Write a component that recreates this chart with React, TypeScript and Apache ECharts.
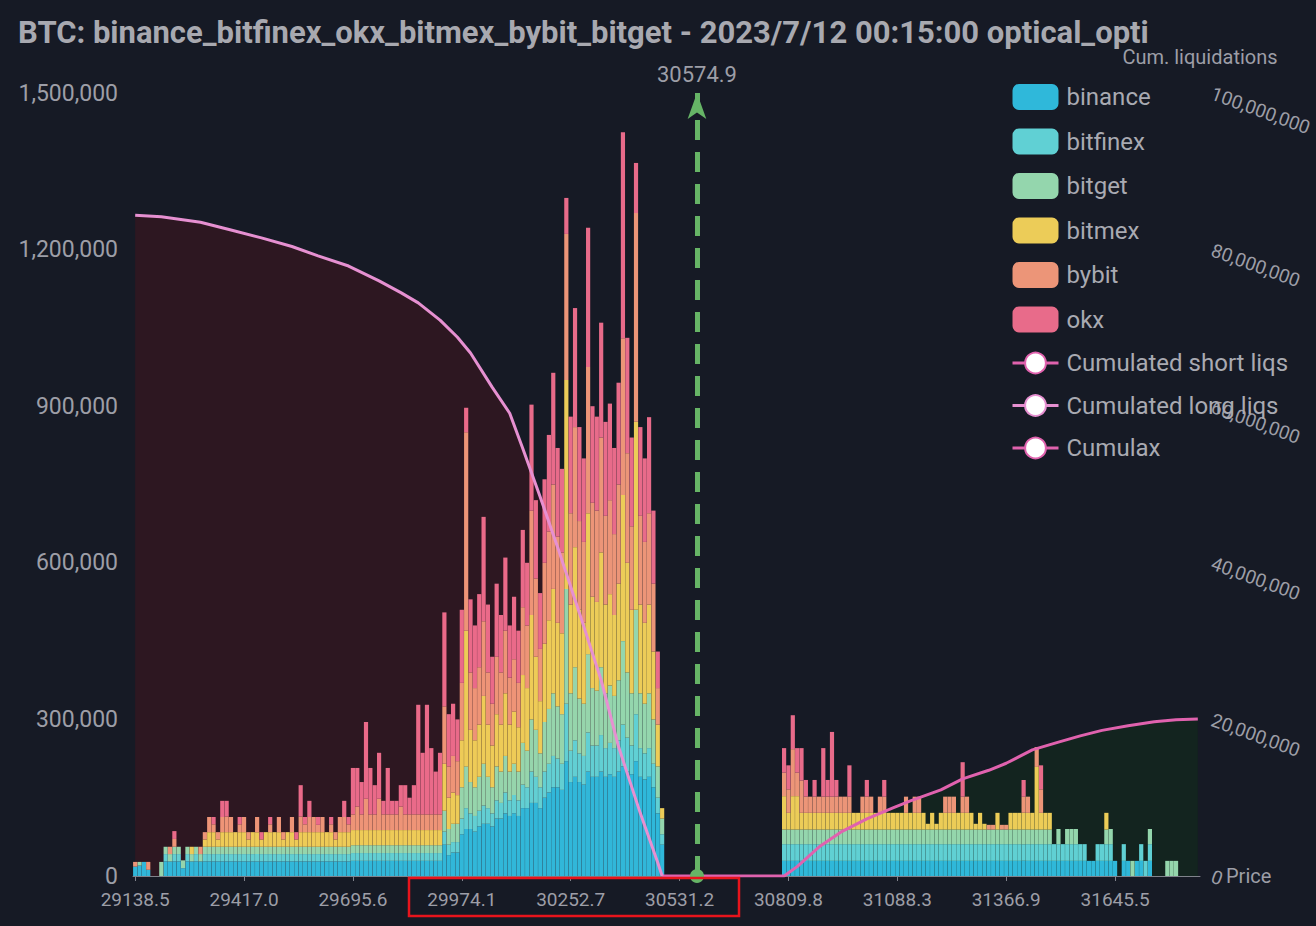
import { useEffect, useRef } from 'react';
import * as echarts from 'echarts';

const TITLE = 'BTC: binance_bitfinex_okx_bitmex_bybit_bitget - 2023/7/12 00:15:00 optical_opti';
const PRICE_START = 29138.455;
const PRICE_STEP = 11.14222;
const BIN_COUNT = 245;
const LABEL_EVERY = 25;
const TICK_LABELS = ['29138.5', '29417.0', '29695.6', '29974.1', '30252.7', '30531.2', '30809.8', '31088.3', '31366.9', '31645.5'];
const CURRENT_PRICE = '30574.9';
const CURRENT_PRICE_VALUE = 30574.9;

// liquidation values per price bin, in thousands
const BINANCE = [
  18, 20, 27, 12, 0, 0, 0, 28, 28, 28,
  28, 15, 28, 28, 28, 28, 28, 28, 28, 28,
  28, 28, 28, 28, 28, 28, 28, 28, 28, 28,
  28, 28, 28, 28, 28, 28, 28, 28, 28, 28,
  28, 28, 28, 28, 28, 28, 28, 28, 28, 28,
  29, 29, 29, 29, 29, 29, 29, 29, 29, 29,
  29, 29, 29, 29, 29, 29, 29, 29, 29, 29,
  29, 60, 40, 45, 45, 80, 90, 90, 85, 95,
  100, 100, 95, 110, 110, 120, 115, 120, 115, 130,
  130, 140, 140, 130, 150, 160, 170, 170, 165, 220,
  180, 190, 180, 175, 200, 190, 190, 200, 190, 195,
  190, 200, 210, 200, 195, 220, 190, 185, 190, 170,
  120, 60, 0, 0, 0, 0, 0, 0, 0, 0,
  0, 0, 0, 0, 0, 0, 0, 0, 0, 0,
  0, 0, 0, 0, 0, 0, 0, 0, 0, 29,
  29, 29, 29, 29, 29, 29, 29, 29, 29, 29,
  29, 29, 29, 29, 29, 29, 29, 29, 29, 29,
  29, 29, 29, 29, 29, 29, 29, 29, 29, 29,
  29, 29, 29, 29, 29, 29, 29, 29, 29, 29,
  29, 29, 29, 29, 29, 29, 29, 29, 29, 29,
  29, 29, 29, 29, 29, 29, 29, 29, 29, 29,
  29, 29, 29, 29, 29, 29, 29, 29, 29, 29,
  29, 29, 29, 29, 29, 29, 0, 29, 29, 0,
  29, 29, 0, 29, 0, 0, 0, 0, 0, 0,
  0, 0, 0, 0, 0,
];
const BITFINEX = [
  0, 0, 0, 0, 0, 0, 0, 14, 0, 14,
  14, 0, 14, 0, 14, 0, 14, 14, 14, 14,
  14, 14, 14, 14, 14, 14, 14, 14, 14, 14,
  14, 14, 14, 14, 14, 14, 14, 14, 14, 14,
  14, 14, 14, 14, 14, 14, 14, 14, 14, 14,
  15, 15, 15, 15, 15, 15, 15, 15, 15, 15,
  15, 15, 15, 15, 15, 15, 15, 15, 15, 15,
  15, 25, 20, 20, 20, 30, 40, 30, 30, 30,
  35, 30, 25, 35, 30, 40, 30, 35, 30, 45,
  40, 60, 50, 40, 50, 55, 60, 55, 50, 110,
  60, 70, 55, 55, 75, 60, 60, 70, 55, 60,
  55, 60, 80, 65, 55, 90, 55, 50, 55, 45,
  30, 20, 0, 0, 0, 0, 0, 0, 0, 0,
  0, 0, 0, 0, 0, 0, 0, 0, 0, 0,
  0, 0, 0, 0, 0, 0, 0, 0, 0, 32,
  32, 32, 32, 32, 32, 32, 32, 32, 32, 32,
  32, 32, 32, 32, 32, 32, 32, 32, 32, 32,
  32, 32, 32, 32, 32, 32, 32, 32, 32, 32,
  32, 32, 32, 32, 32, 32, 32, 32, 32, 32,
  32, 32, 32, 32, 32, 32, 32, 32, 32, 32,
  32, 32, 32, 32, 32, 32, 32, 32, 32, 32,
  32, 32, 32, 32, 32, 32, 32, 32, 32, 0,
  0, 32, 32, 32, 32, 0, 0, 32, 0, 0,
  0, 32, 29, 32, 0, 0, 0, 0, 0, 0,
  0, 0, 0, 0, 0,
];
const BITGET = [
  0, 7, 0, 0, 0, 0, 27, 14, 14, 14,
  14, 15, 14, 14, 14, 14, 14, 14, 14, 14,
  14, 14, 14, 14, 14, 14, 14, 14, 14, 14,
  14, 14, 14, 14, 14, 14, 14, 14, 14, 14,
  14, 14, 14, 14, 14, 14, 14, 14, 14, 14,
  15, 15, 15, 15, 15, 15, 15, 15, 15, 15,
  15, 15, 15, 15, 15, 15, 15, 15, 15, 15,
  15, 40, 30, 35, 35, 60, 80, 60, 55, 65,
  80, 60, 50, 65, 60, 70, 55, 60, 55, 80,
  70, 100, 90, 65, 95, 105, 120, 100, 95, 220,
  110, 140, 105, 100, 150, 110, 105, 130, 105, 110,
  100, 115, 160, 125, 100, 200, 105, 95, 105, 85,
  60, 30, 0, 0, 0, 0, 0, 0, 0, 0,
  0, 0, 0, 0, 0, 0, 0, 0, 0, 0,
  0, 0, 0, 0, 0, 0, 0, 0, 0, 28,
  28, 28, 28, 28, 28, 28, 28, 28, 28, 28,
  28, 28, 28, 28, 28, 28, 28, 28, 28, 28,
  28, 28, 28, 28, 28, 28, 28, 28, 28, 28,
  28, 28, 28, 28, 28, 28, 28, 28, 28, 28,
  28, 28, 28, 28, 28, 28, 28, 28, 28, 28,
  28, 28, 28, 28, 28, 28, 28, 28, 28, 28,
  28, 0, 29, 0, 29, 29, 29, 0, 0, 0,
  0, 0, 0, 28, 29, 0, 0, 0, 0, 29,
  0, 0, 0, 29, 0, 0, 0, 29, 29, 29,
  0, 0, 0, 0, 0,
];
const BITMEX = [
  0, 0, 0, 0, 0, 0, 0, 0, 0, 0,
  0, 0, 0, 14, 0, 0, 14, 28, 28, 14,
  28, 28, 28, 28, 28, 28, 14, 28, 28, 14,
  28, 28, 28, 28, 14, 28, 28, 14, 28, 28,
  28, 28, 28, 28, 28, 28, 14, 28, 28, 28,
  29, 29, 29, 29, 29, 29, 29, 29, 29, 29,
  29, 29, 29, 29, 29, 29, 29, 29, 29, 29,
  29, 90, 60, 60, 55, 90, 260, 100, 90, 100,
  130, 100, 80, 100, 90, 120, 90, 100, 85, 130,
  120, 200, 140, 100, 150, 170, 200, 160, 155, 400,
  170, 230, 170, 155, 270, 175, 170, 220, 170, 175,
  155, 185, 280, 210, 160, 360, 170, 155, 170, 130,
  80, 20, 0, 0, 0, 0, 0, 0, 0, 0,
  0, 0, 0, 0, 0, 0, 0, 0, 0, 0,
  0, 0, 0, 0, 0, 0, 0, 0, 0, 64,
  32, 64, 64, 32, 32, 32, 32, 32, 32, 32,
  32, 32, 32, 32, 32, 32, 32, 32, 32, 32,
  32, 32, 32, 32, 32, 32, 32, 32, 32, 32,
  32, 32, 11, 32, 11, 32, 32, 32, 32, 32,
  32, 32, 32, 11, 32, 11, 0, 0, 32, 0,
  0, 32, 32, 32, 32, 32, 32, 120, 32, 32,
  32, 0, 0, 0, 0, 0, 0, 0, 0, 0,
  0, 0, 0, 32, 0, 0, 0, 0, 0, 0,
  0, 0, 0, 0, 0, 0, 0, 0, 0, 0,
  0, 0, 0, 0, 0,
];
const BYBIT = [
  9, 0, 0, 15, 0, 0, 0, 0, 14, 15,
  0, 0, 0, 0, 0, 14, 14, 29, 15, 14,
  29, 30, 29, 0, 15, 29, 14, 0, 29, 0,
  0, 15, 0, 29, 14, 0, 29, 0, 30, 15,
  29, 29, 14, 29, 0, 15, 14, 29, 29, 15,
  30, 45, 30, 60, 30, 30, 60, 30, 30, 30,
  30, 45, 30, 30, 30, 30, 30, 30, 30, 30,
  30, 110, 60, 70, 65, 110, 380, 110, 100, 110,
  143, 100, 80, 110, 100, 120, 90, 100, 85, 130,
  120, 200, 150, 100, 155, 170, 200, 165, 155, 280,
  175, 230, 170, 155, 280, 180, 175, 220, 170, 180,
  155, 190, 300, 210, 160, 400, 170, 155, 175, 130,
  70, 0, 0, 0, 0, 0, 0, 0, 0, 0,
  0, 0, 0, 0, 0, 0, 0, 0, 0, 0,
  0, 0, 0, 0, 0, 0, 0, 0, 0, 45,
  45, 90, 45, 62, 31, 31, 31, 31, 31, 31,
  31, 31, 31, 31, 31, 0, 0, 31, 31, 31,
  0, 31, 31, 0, 0, 0, 0, 31, 0, 31,
  31, 0, 0, 0, 0, 0, 31, 31, 31, 0,
  31, 31, 0, 0, 0, 0, 9, 9, 0, 9,
  9, 0, 0, 0, 31, 31, 0, 38, 45, 0,
  0, 0, 0, 0, 0, 0, 0, 0, 0, 0,
  0, 0, 0, 0, 0, 0, 0, 0, 0, 0,
  0, 0, 0, 0, 0, 0, 0, 0, 0, 0,
  0, 0, 0, 0, 0,
];
const OKX = [
  0, 0, 0, 0, 0, 0, 0, 0, 0, 15,
  0, 0, 0, 0, 0, 0, 0, 0, 14, 0,
  31, 30, 0, 0, 14, 0, 0, 0, 0, 14,
  0, 14, 0, 0, 0, 0, 0, 14, 60, 14,
  31, 0, 15, 0, 0, 14, 0, 0, 31, 14,
  89, 74, 62, 147, 89, 56, 88, 26, 89, 26,
  26, 41, 56, 32, 56, 210, 118, 210, 127, 82,
  118, 180, 100, 100, 80, 140, 47, 140, 120, 140,
  200, 130, 90, 140, 110, 140, 100, 120, 100, 148,
  120, 203, 150, 107, 160, 185, 214, 170, 160, 69,
  185, 228, 180, 160, 267, 185, 180, 220, 180, 185,
  165, 195, 395, 221, 170, 96, 170, 160, 184, 140,
  70, 0, 0, 0, 0, 0, 0, 0, 0, 0,
  0, 0, 0, 0, 0, 0, 0, 0, 0, 0,
  0, 0, 0, 0, 0, 0, 0, 0, 0, 47,
  46, 65, 47, 62, 32, 0, 32, 0, 93, 32,
  124, 32, 0, 0, 60, 0, 0, 0, 32, 0,
  0, 0, 32, 0, 0, 0, 0, 0, 0, 0,
  0, 0, 0, 0, 0, 0, 0, 0, 0, 0,
  66, 0, 0, 0, 0, 0, 0, 0, 0, 0,
  0, 0, 0, 0, 32, 0, 0, 0, 46, 0,
  0, 0, 0, 0, 0, 0, 0, 0, 0, 0,
  0, 0, 0, 0, 0, 0, 0, 0, 0, 0,
  0, 0, 0, 0, 0, 0, 0, 0, 0, 0,
  0, 0, 0, 0, 0,
];

// cumulative liquidations (millions), read at price-bin indices
const LONG_CUM_IDX = [0, 6, 15, 22, 29, 36, 42, 49, 56, 61, 65, 70, 74, 77, 82, 86, 89, 93, 97, 102, 107, 111, 116, 120, 121];
const LONG_CUM_M = [84.4, 84.2, 83.5, 82.5, 81.5, 80.4, 79.2, 77.9, 76.0, 74.5, 73.2, 71.0, 68.8, 66.8, 62.4, 59.1, 54.6, 48.4, 42.0, 33.6, 25.0, 16.5, 8.0, 1.7, 0];
const SHORT_CUM_IDX = [121, 149, 152, 157, 162, 168, 174, 178, 185, 190, 196, 200, 206, 212, 217, 222, 228, 234, 239, 244];
const SHORT_CUM_M = [0, 0, 1.2, 3.7, 5.6, 7.3, 8.7, 9.6, 11.0, 12.4, 13.5, 14.4, 16.1, 17.1, 17.9, 18.6, 19.2, 19.7, 19.95, 20.05];

const BG = '#161a25';
const TEXT = '#9d9ea7';
const LEGEND_TEXT = '#a9aab2';
const FONT = 'Roboto';
const SHORT_COLOR = '#e062ae';
const LONG_COLOR = '#e690d1';

const EXCHANGES = [
  { name: 'binance', values: BINANCE, color: '#32c5e9' },
  { name: 'bitfinex', values: BITFINEX, color: '#67e0e3' },
  { name: 'bitget', values: BITGET, color: '#9fe6b8' },
  { name: 'bitmex', values: BITMEX, color: '#ffdb5c' },
  { name: 'bybit', values: BYBIT, color: '#ff9f7f' },
  { name: 'okx', values: OKX, color: '#fb7293' },
];

export default function App() {
  const ref = useRef<HTMLDivElement>(null);

  useEffect(() => {
    document.body.style.margin = '0';
    document.body.style.background = BG;
    const chart = echarts.init(ref.current as HTMLDivElement, null, { renderer: 'svg' });

    const categories: string[] = [];
    for (let i = 0; i < BIN_COUNT; i++) categories.push((PRICE_START + i * PRICE_STEP).toFixed(1));
    const markIndex = Math.round((CURRENT_PRICE_VALUE - PRICE_START) / PRICE_STEP);

    const shortData = SHORT_CUM_IDX.map((x, k) => [x, SHORT_CUM_M[k] * 1e6]);
    const longData = LONG_CUM_IDX.map((x, k) => [x, LONG_CUM_M[k] * 1e6]);

    const barSeries: any[] = EXCHANGES.map((ex, k) => ({
      name: ex.name,
      type: 'bar',
      stack: 'liq',
      barCategoryGap: '4%',
      itemStyle: { color: ex.color, opacity: 0.92 },
      data: ex.values.map((v) => v * 1000),
      z: 2,
      ...(k === 0
        ? {
            markLine: {
              silent: true,
              symbol: ['circle', 'arrow'],
              symbolSize: [14, 26],
              lineStyle: { color: '#66b466', width: 5, type: [20, 12] },
              label: {
                show: true,
                position: 'end',
                formatter: CURRENT_PRICE,
                color: TEXT,
                fontSize: 22,
                fontFamily: FONT,
                distance: 8,
              },
              data: [{ xAxis: markIndex }],
              z: 5,
            },
          }
        : {}),
    }));

    const lineLegendStyle = { itemStyle: { borderWidth: 3 }, lineStyle: { width: 3 } };

    const areaSeries = (name: string, data: number[][], color: string) => ({
      name,
      type: 'line',
      yAxisIndex: 1,
      symbol: 'none',
      silent: true,
      lineStyle: { width: 0, opacity: 0 },
      areaStyle: { color, opacity: 1 },
      data,
      z: 1,
    });

    const option: any = {
      animation: false,
      backgroundColor: BG,
      textStyle: { fontFamily: FONT },
      title: {
        text: TITLE,
        left: 18,
        top: 17,
        padding: 0,
        textStyle: { color: '#a8a9b0', fontSize: 31, fontWeight: 'bold', fontFamily: FONT },
      },
      legend: {
        orient: 'vertical',
        left: 1011,
        top: 84,
        padding: 0,
        itemWidth: 46,
        itemHeight: 26,
        itemGap: 18.5,
        textStyle: { color: LEGEND_TEXT, fontSize: 24, fontFamily: FONT, padding: [0, 0, 0, 3] },
        data: [
          ...EXCHANGES.map((e) => ({ name: e.name, icon: 'roundRect' })),
          { name: 'Cumulated short liqs', ...lineLegendStyle },
          { name: 'Cumulated long liqs', ...lineLegendStyle },
          { name: 'Cumulax', ...lineLegendStyle },
        ],
      },
      grid: { left: 133, right: 116, top: 93, bottom: 50, containLabel: false, outerBoundsMode: 'none' },
      xAxis: {
        type: 'category',
        data: categories,
        boundaryGap: true,
        name: 'Price',
        nameLocation: 'end',
        nameGap: 26,
        nameMoveOverlap: false,
        nameTextStyle: { color: TEXT, fontSize: 20, fontFamily: FONT },
        axisLine: { show: true, lineStyle: { color: '#80838c', width: 1 } },
        axisTick: { show: true, alignWithLabel: true, interval: LABEL_EVERY - 1, length: 5, lineStyle: { color: '#80838c' } },
        axisLabel: {
          interval: LABEL_EVERY - 1,
          color: TEXT,
          fontSize: 19,
          margin: 14,
          fontFamily: FONT,
          formatter: (v: string, idx: number) => (idx % LABEL_EVERY === 0 ? TICK_LABELS[idx / LABEL_EVERY] ?? v : v),
        },
        splitLine: { show: false },
      },
      yAxis: [
        {
          type: 'value',
          min: 0,
          max: 1500000,
          interval: 300000,
          axisLine: { show: false },
          axisTick: { show: false },
          splitLine: { show: false },
          axisLabel: { color: TEXT, fontSize: 23, margin: 15, fontFamily: FONT },
        },
        {
          type: 'value',
          position: 'right',
          min: 0,
          max: 100000000,
          interval: 20000000,
          name: 'Cum. liquidations',
          nameLocation: 'end',
          nameGap: 26,
          nameTextStyle: { color: TEXT, fontSize: 20, fontFamily: FONT },
          axisLine: { show: false },
          axisTick: { show: false },
          splitLine: { show: false },
          axisLabel: { color: TEXT, fontSize: 19, margin: 12, rotate: -20, fontFamily: FONT },
        },
      ],
      graphic: [
        {
          type: 'rect',
          shape: { x: 409, y: 878, width: 330, height: 38 },
          style: { fill: 'none', stroke: '#e8141c', lineWidth: 2.5 },
          z: 100,
        },
      ],
      series: [
        areaSeries('short-area', shortData, 'rgba(15,45,25,0.5)'),
        areaSeries('long-area', longData, 'rgba(255,0,0,0.1)'),
        ...barSeries,
        {
          name: 'Cumulated short liqs',
          type: 'line',
          yAxisIndex: 1,
          symbol: 'emptyCircle',
          showSymbol: false,
          lineStyle: { width: 3, color: SHORT_COLOR },
          itemStyle: { color: SHORT_COLOR },
          data: shortData,
          z: 3,
        },
        {
          name: 'Cumulated long liqs',
          type: 'line',
          yAxisIndex: 1,
          symbol: 'emptyCircle',
          showSymbol: false,
          lineStyle: { width: 3, color: LONG_COLOR },
          itemStyle: { color: LONG_COLOR },
          data: longData,
          z: 3,
        },
        {
          name: 'Cumulax',
          type: 'line',
          yAxisIndex: 1,
          symbol: 'emptyCircle',
          showSymbol: false,
          lineStyle: { width: 3, color: SHORT_COLOR },
          itemStyle: { color: SHORT_COLOR },
          data: [],
          z: 3,
        },
      ],
    };

    chart.setOption(option);
    return () => chart.dispose();
  }, []);

  return <div ref={ref} style={{ width: 1316, height: 926 }} />;
}
